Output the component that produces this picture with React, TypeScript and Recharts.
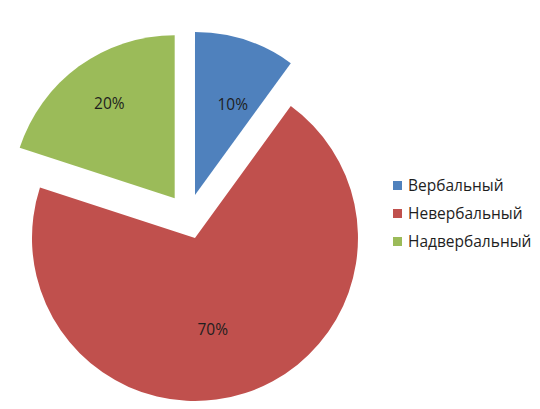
import React from "react";
import { PieChart, Pie, Cell, Legend } from "recharts";

const categories = ["Вербальный", "Невербальный", "Надвербальный"];
const values = [10, 70, 20];
const colors = ["#4F81BD", "#C0504D", "#9BBB59"];

const data = categories.map((name, i) => ({ name, value: values[i] }));

const W = 540;
const H = 409;
const CX = 188;
const CY = 216.5;
const R = 163;
const EXPLODE = 22.6;
// label nudges (layout only)
const labelNudge = [
  [6, 7],
  [-14, -7],
  [-5, -12],
];

const total = values.reduce((a, b) => a + b, 0);
const midAngles = values.map((v, i) => {
  const before = values.slice(0, i).reduce((a, b) => a + b, 0);
  const midFrac = (before + v / 2) / total;
  return 90 - midFrac * 360;
});

const RAD = Math.PI / 180;

const renderLabel = (idx: number) => (props: any) => {
  const { cx, cy, midAngle, outerRadius, index, percent } = props;
  if (index !== idx) return null;
  const r = outerRadius * 0.63;
  const x = cx + r * Math.cos(-midAngle * RAD) + labelNudge[idx][0];
  const y = cy + r * Math.sin(-midAngle * RAD) + labelNudge[idx][1];
  return (
    <text
      x={x}
      y={y}
      fill="#1e1e1e"
      fontFamily="'Open Sans', sans-serif"
      fontSize={15.5}
      textAnchor="middle"
      dominantBaseline="central"
    >
      {`${Math.round(percent * 100)}%`}
    </text>
  );
};

const LegendContent = () => (
  <div style={{ fontFamily: "'Open Sans', sans-serif", fontSize: 15.5, color: "#1e1e1e" }}>
    {categories.map((c, i) => (
      <div key={c} style={{ display: "flex", alignItems: "center", height: 28 }}>
        <span
          style={{
            display: "inline-block",
            width: 9,
            height: 9,
            background: colors[i],
            marginRight: 6,
          }}
        />
        <span>{c}</span>
      </div>
    ))}
  </div>
);

export default function App() {
  return (
    <div style={{ position: "absolute", left: 0, top: 0, width: W, height: H, background: "#fff" }}>
      <PieChart width={W} height={H} margin={{ top: 0, right: 0, bottom: 0, left: 0 }}>
        {values.map((_, pi) => {
          const m = midAngles[pi];
          const cx = CX + EXPLODE * Math.cos(m * RAD);
          const cy = CY - EXPLODE * Math.sin(m * RAD);
          return (
            <Pie
              key={pi}
              data={data}
              dataKey="value"
              nameKey="name"
              cx={cx}
              cy={cy}
              outerRadius={R}
              startAngle={90}
              endAngle={-270}
              stroke="none"
              labelLine={false}
              label={renderLabel(pi)}
              isAnimationActive={false}
            >
              {data.map((d, j) => (
                <Cell key={d.name} fill={j === pi ? colors[j] : "transparent"} stroke="none" />
              ))}
            </Pie>
          );
        })}
        <Legend
          content={<LegendContent />}
          wrapperStyle={{ position: "absolute", left: 393, top: 171, width: 147 }}
        />
      </PieChart>
    </div>
  );
}
